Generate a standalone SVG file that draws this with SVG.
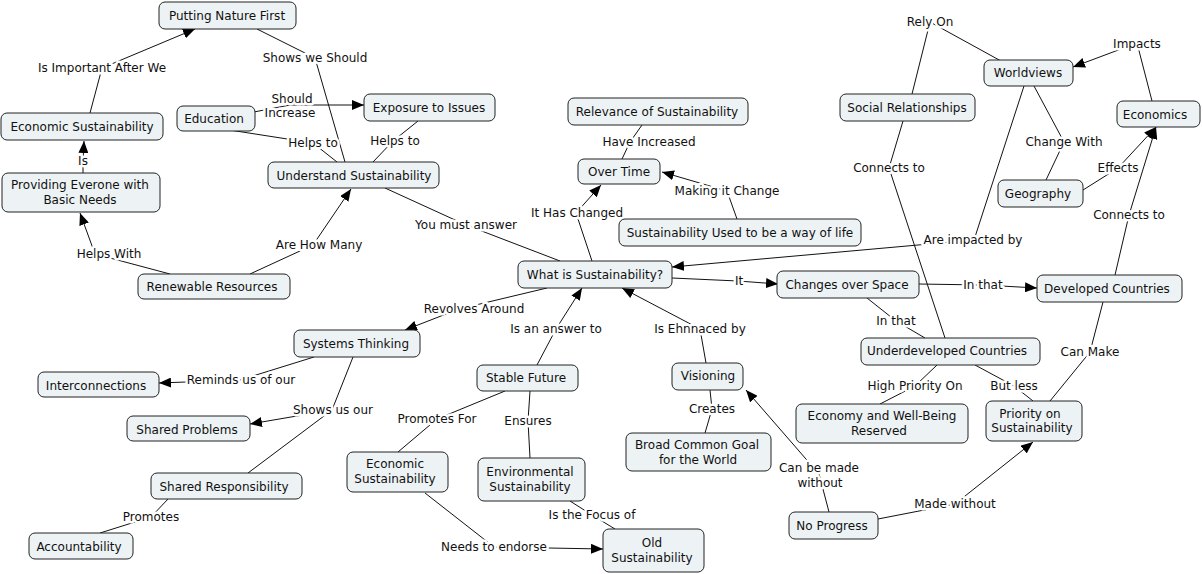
<svg xmlns="http://www.w3.org/2000/svg" width="1203" height="574" viewBox="0 0 1203 574">
<defs>
<marker id="ar" viewBox="0 0 12 10" refX="12" refY="5" markerWidth="12" markerHeight="10" markerUnits="userSpaceOnUse" orient="auto"><path d="M0,0L12,5L0,10z" fill="#000"/></marker>
<style>
.n rect{fill:#edf3f5;stroke:#222;stroke-width:1}
text{font-family:"DejaVu Sans",Verdana,sans-serif;font-size:12px;fill:#111;text-anchor:middle}
.c polyline{fill:none;stroke:#111;stroke-width:1}
.c .a{marker-end:url(#ar)}
.l text{stroke:#fff;stroke-width:5;paint-order:stroke;stroke-linejoin:round}
</style>
</defs>
<rect width="1203" height="574" fill="#fff"/>
<g class="c">
<polyline class="a" points="90,113 102,68 195,29"/>
<polyline points="257,29 315,58 345,162"/>
<polyline class="a" points="223,118 290,105 364,105"/>
<polyline points="223,129 313,143 337,162"/>
<polyline points="418,121 393,141 373,162"/>
<polyline class="a" points="83,173 83,161 84,141"/>
<polyline class="a" points="170,274 95,254 80,213"/>
<polyline class="a" points="250,274 313,245 351,189"/>
<polyline points="385,188 466,225 560,261"/>
<polyline points="642,125 630,142 622,159"/>
<polyline class="a" points="592,261 576,213 601,185"/>
<polyline class="a" points="737,219 727,191 662,172"/>
<polyline class="a" points="1024,86 974,240 672,267"/>
<polyline points="903,121 889,168 945,338"/>
<polyline points="912,94 930,22 1001,61"/>
<polyline class="a" points="1152,101 1137,43 1073,67"/>
<polyline points="1034,86 1064,142 1046,180"/>
<polyline class="a" points="1083,190 1118,168 1156,127"/>
<polyline class="a" points="1115,275 1129,215 1156,127"/>
<polyline class="a" points="672,278 738,281 778,284"/>
<polyline class="a" points="919,284 983,285 1037,288"/>
<polyline points="867,298 896,321 925,338"/>
<polyline points="937,365 915,386 880,404"/>
<polyline points="975,365 1014,386 1033,401"/>
<polyline points="1103,302 1090,352 1050,401"/>
<polyline class="a" points="878,519 955,504 1033,442"/>
<polyline class="a" points="829,512 819,474 746,390"/>
<polyline class="a" points="706,363 700,329 622,288"/>
<polyline points="710,390 712,409 705,433"/>
<polyline class="a" points="537,365 556,329 582,288"/>
<polyline class="a" points="547,288 459,309 405,330"/>
<polyline class="a" points="314,357 240,380 159,383"/>
<polyline class="a" points="332,410 250,424"/>
<polyline points="353,357 332,410 248,473"/>
<polyline points="168,499 151,517 100,533"/>
<polyline points="505,391 437,419 398,452"/>
<polyline points="530,391 528,421 530,458"/>
<polyline class="a" points="425,493 494,547 603,549"/>
<polyline points="570,501 592,515 615,529"/>
</g>
<g class="l">
<text x="102" y="72">Is Important After We</text>
<text x="315" y="62">Shows we Should</text>
<text x="292" y="103">Should</text>
<text x="290" y="117">Increase</text>
<text x="313" y="147">Helps to</text>
<text x="395" y="145">Helps to</text>
<text x="83" y="165">Is</text>
<text x="109" y="258">Helps With</text>
<text x="319" y="249">Are How Many</text>
<text x="466" y="229">You must answer</text>
<text x="649" y="146">Have Increased</text>
<text x="577" y="217">It Has Changed</text>
<text x="727" y="195">Making it Change</text>
<text x="973" y="244">Are impacted by</text>
<text x="889" y="172">Connects to</text>
<text x="930" y="26">Rely On</text>
<text x="1137" y="48">Impacts</text>
<text x="1064" y="146">Change With</text>
<text x="1118" y="172">Effects</text>
<text x="1129" y="219">Connects to</text>
<text x="739" y="285">It</text>
<text x="983" y="289">In that</text>
<text x="896" y="325">In that</text>
<text x="915" y="390">High Priority On</text>
<text x="1014" y="390">But less</text>
<text x="1090" y="356">Can Make</text>
<text x="955" y="508">Made without</text>
<text x="819" y="472">Can be made</text>
<text x="820" y="487">without</text>
<text x="700" y="333">Is Ehnnaced by</text>
<text x="712" y="413">Creates</text>
<text x="556" y="333">Is an answer to</text>
<text x="474" y="313">Revolves Around</text>
<text x="241" y="384">Reminds us of our</text>
<text x="333" y="414">Shows us our</text>
<text x="151" y="521">Promotes</text>
<text x="437" y="423">Promotes For</text>
<text x="528" y="425">Ensures</text>
<text x="494" y="551">Needs to endorse</text>
<text x="592" y="519">Is the Focus of</text>
</g>
<g id="putting-nature-first" class="n"><rect x="159" y="2" width="137" height="27" rx="6"/><text x="227" y="20">Putting Nature First</text></g>
<g id="economic-sustainability-1" class="n"><rect x="1" y="113" width="162" height="27" rx="6"/><text x="82" y="131">Economic Sustainability</text></g>
<g id="providing-basic-needs" class="n"><rect x="2" y="173" width="158" height="39" rx="6"/><text x="80" y="189">Providing Everone with</text><text x="80" y="204">Basic Needs</text></g>
<g id="education" class="n"><rect x="177" y="106" width="78" height="25" rx="6"/><text x="214" y="123">Education</text></g>
<g id="exposure-to-issues" class="n"><rect x="364" y="94" width="131" height="27" rx="6"/><text x="429" y="112">Exposure to Issues</text></g>
<g id="understand-sustainability" class="n"><rect x="268" y="162" width="171" height="26" rx="6"/><text x="354" y="180">Understand Sustainability</text></g>
<g id="renewable-resources" class="n"><rect x="138" y="274" width="152" height="25" rx="6"/><text x="212" y="291">Renewable Resources</text></g>
<g id="relevance" class="n"><rect x="568" y="98" width="180" height="27" rx="6"/><text x="657" y="116">Relevance of Sustainability</text></g>
<g id="over-time" class="n"><rect x="578" y="159" width="82" height="25" rx="6"/><text x="619" y="176">Over Time</text></g>
<g id="used-to-be" class="n"><rect x="619" y="219" width="242" height="27" rx="6"/><text x="740" y="237">Sustainability Used to be a way of life</text></g>
<g id="what-is" class="n"><rect x="518" y="261" width="154" height="27" rx="6"/><text x="595" y="279">What is Sustainability?</text></g>
<g id="social-relationships" class="n"><rect x="840" y="94" width="135" height="27" rx="6"/><text x="907" y="112">Social Relationships</text></g>
<g id="worldviews" class="n"><rect x="984" y="60" width="89" height="26" rx="6"/><text x="1028" y="77">Worldviews</text></g>
<g id="economics" class="n"><rect x="1117" y="101" width="83" height="26" rx="6"/><text x="1155" y="119">Economics</text></g>
<g id="geography" class="n"><rect x="998" y="180" width="85" height="27" rx="6"/><text x="1038" y="198">Geography</text></g>
<g id="changes-over-space" class="n"><rect x="777" y="271" width="142" height="27" rx="6"/><text x="847" y="289">Changes over Space</text></g>
<g id="developed" class="n"><rect x="1037" y="275" width="145" height="27" rx="6"/><text x="1107" y="293">Developed Countries</text></g>
<g id="systems-thinking" class="n"><rect x="294" y="330" width="126" height="27" rx="6"/><text x="356" y="348">Systems Thinking</text></g>
<g id="interconnections" class="n"><rect x="38" y="372" width="121" height="25" rx="6"/><text x="96" y="390">Interconnections</text></g>
<g id="shared-problems" class="n"><rect x="127" y="416" width="123" height="25" rx="6"/><text x="187" y="434">Shared Problems</text></g>
<g id="stable-future" class="n"><rect x="477" y="365" width="101" height="26" rx="6"/><text x="526" y="382">Stable Future</text></g>
<g id="visioning" class="n"><rect x="672" y="363" width="71" height="27" rx="6"/><text x="708" y="380">Visioning</text></g>
<g id="underdeveloped" class="n"><rect x="861" y="338" width="179" height="27" rx="6"/><text x="947" y="355">Underdeveloped Countries</text></g>
<g id="economy-well-being" class="n"><rect x="796" y="404" width="172" height="39" rx="6"/><text x="882" y="420">Economy and Well-Being</text><text x="879" y="435">Reserved</text></g>
<g id="priority" class="n"><rect x="986" y="401" width="96" height="40" rx="6"/><text x="1030" y="418">Priority on</text><text x="1032" y="432">Sustainability</text></g>
<g id="broad-goal" class="n"><rect x="626" y="433" width="145" height="38" rx="6"/><text x="697" y="449">Broad Common Goal</text><text x="698" y="464">for the World</text></g>
<g id="economic-sustainability-2" class="n"><rect x="347" y="452" width="101" height="40" rx="6"/><text x="395" y="468">Economic</text><text x="395" y="483">Sustainability</text></g>
<g id="environmental-sustainability" class="n"><rect x="478" y="458" width="107" height="43" rx="6"/><text x="530" y="476">Environmental</text><text x="530" y="491">Sustainability</text></g>
<g id="shared-responsibility" class="n"><rect x="151" y="473" width="151" height="26" rx="6"/><text x="224" y="491">Shared Responsibility</text></g>
<g id="accountability" class="n"><rect x="29" y="533" width="104" height="26" rx="6"/><text x="79" y="551">Accountability</text></g>
<g id="no-progress" class="n"><rect x="789" y="512" width="89" height="27" rx="6"/><text x="832" y="530">No Progress</text></g>
<g id="old-sustainability" class="n"><rect x="603" y="529" width="101" height="43" rx="6"/><text x="652" y="547">Old</text><text x="652" y="562">Sustainability</text></g>
</svg>
